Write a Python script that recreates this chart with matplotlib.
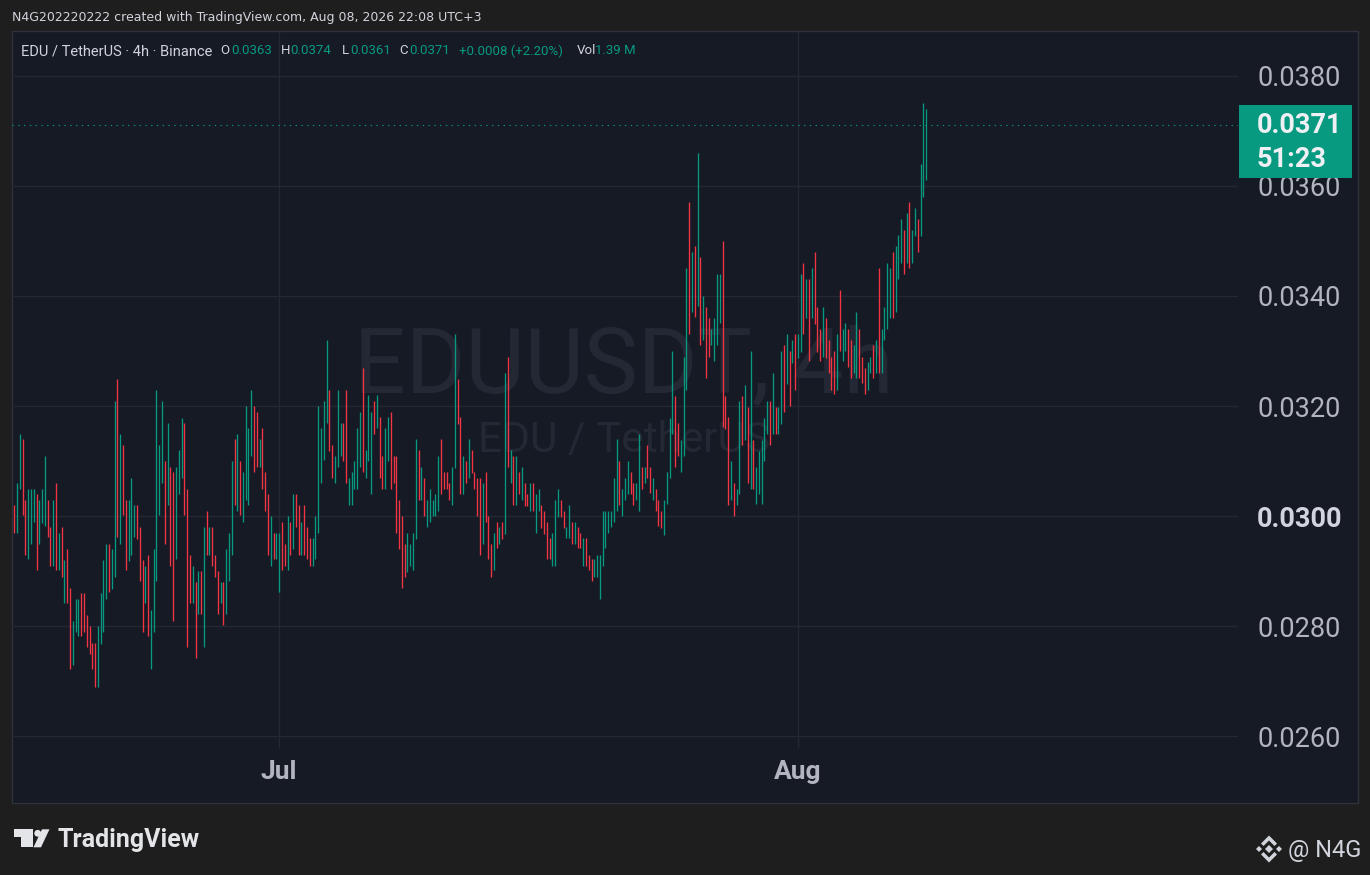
import numpy as np
import pandas as pd
import matplotlib
matplotlib.use("Agg")
import matplotlib.pyplot as plt
from matplotlib.patches import Rectangle, Polygon, Ellipse

plt.rcParams['font.family'] = ['Roboto', 'DejaVu Sans']

# ---------------- data ----------------
symbol = "EDU / TetherUS"
ticker = "EDUUSDT"
interval = "4h"
exchange = "Binance"
header_text = "N4G202220222 created with TradingView.com, Aug 08, 2026 22:08 UTC+3"
last_bar_time = "2026-08-08 19:00"       # UTC+3
ohlc_last = {"O": "0.0363", "H": "0.0374", "L": "0.0361", "C": "0.0371"}
last_close = 0.0371
change_text = "+0.0008 (+2.20%)"
volume_text = "1.39 M"
countdown = "51:23"
price_ticks = [0.026, 0.028, 0.030, 0.032, 0.034, 0.036, 0.038]

# u = up (green) candle, d = down (red) candle
direction = ("duudduuudu" "uuddududud" "duuudddddd" "uuuuduudud" "duuudddudu"
             "uuuududduu" "udddududud" "uddduduuud" "uduuuuddud" "dduduuddud"
             "udduddduuu" "uuudduuudd" "uuuuuduuud" "udduuddddd" "duuuududuu"
             "uuudddduud" "dududdddud" "ddudududud" "ududduduud" "ddduuudduu"
             "dudduddduu" "uuuuuuuduu" "udduududdu" "ddduuuuddu" "uududududd"
             "uuuudddudu" "udududuuuu" "ududuududu" "duudududdd" "udddduduud"
             "duuddduudu" "duuuuduuud" "uduuduuu")

high = [
    0.03020, 0.03060, 0.03149, 0.03140, 0.03029, 0.03049, 0.03049, 0.03049, 0.03040, 0.03029,
    0.03049, 0.03109, 0.03029, 0.02980, 0.03029, 0.03060, 0.02970, 0.02980, 0.02920, 0.02940,
    0.02869, 0.02809, 0.02849, 0.02849, 0.02860, 0.02860, 0.02820, 0.02800, 0.02769, 0.02769,
    0.02800, 0.02860, 0.02920, 0.02950, 0.02950, 0.02940, 0.03209, 0.03249, 0.03149, 0.03129,
    0.03029, 0.03029, 0.03069, 0.03020, 0.03020, 0.02980, 0.02920, 0.02909, 0.02930, 0.02829,
    0.02940, 0.03229, 0.03129, 0.03209, 0.03100, 0.03169, 0.03089, 0.03080, 0.03089, 0.03120,
    0.03179, 0.03169, 0.03049, 0.02929, 0.02909, 0.02880, 0.02900, 0.02900, 0.02980, 0.03009,
    0.02980, 0.02980, 0.02929, 0.02900, 0.02880, 0.02880, 0.02940, 0.02969, 0.03100, 0.03140,
    0.03149, 0.03100, 0.03080, 0.03200, 0.03160, 0.03229, 0.03200, 0.03189, 0.03140, 0.03160,
    0.03080, 0.03040, 0.03000, 0.02969, 0.02969, 0.02969, 0.02989, 0.02949, 0.03000, 0.02989,
    0.03040, 0.03040, 0.03020, 0.02989, 0.03020, 0.02980, 0.02960, 0.02960, 0.03000, 0.03200,
    0.03160, 0.03209, 0.03320, 0.03229, 0.03129, 0.03109, 0.03229, 0.03169, 0.03169, 0.03229,
    0.03069, 0.03080, 0.03100, 0.03160, 0.03189, 0.03269, 0.03120, 0.03220, 0.03189, 0.03209,
    0.03220, 0.03180, 0.03109, 0.03160, 0.03180, 0.03189, 0.03109, 0.03109, 0.03029, 0.03000,
    0.02949, 0.02969, 0.02949, 0.02969, 0.03140, 0.03120, 0.03089, 0.03069, 0.03029, 0.03049,
    0.03029, 0.03040, 0.03109, 0.03140, 0.03080, 0.03080, 0.03060, 0.03089, 0.03331, 0.03249,
    0.03180, 0.03109, 0.03100, 0.03140, 0.03120, 0.03080, 0.03069, 0.03069, 0.03060, 0.03080,
    0.03000, 0.02950, 0.02970, 0.02990, 0.02980, 0.02990, 0.03260, 0.03289, 0.03120, 0.03109,
    0.03109, 0.03080, 0.03090, 0.03060, 0.03040, 0.03060, 0.03060, 0.03040, 0.03049, 0.03020,
    0.03009, 0.02990, 0.02960, 0.02970, 0.03029, 0.03049, 0.03029, 0.03009, 0.02980, 0.03020,
    0.02990, 0.02990, 0.02980, 0.02970, 0.02960, 0.02960, 0.02930, 0.02921, 0.02921, 0.02930,
    0.02930, 0.03009, 0.03009, 0.03009, 0.03009, 0.03069, 0.03140, 0.03100, 0.03049, 0.03069,
    0.03100, 0.03080, 0.03060, 0.03060, 0.03149, 0.03089, 0.03089, 0.03129, 0.03089, 0.03070,
    0.03050, 0.03030, 0.03010, 0.03030, 0.03080, 0.03179, 0.03300, 0.03219, 0.03169, 0.03139,
    0.03289, 0.03451, 0.03571, 0.03480, 0.03491, 0.03660, 0.03471, 0.03400, 0.03380, 0.03360,
    0.03340, 0.03360, 0.03440, 0.03440, 0.03500, 0.03219, 0.03180, 0.03100, 0.03060, 0.03050,
    0.03209, 0.03219, 0.03239, 0.03199, 0.03300, 0.03139, 0.03089, 0.03119, 0.03139, 0.03179,
    0.03209, 0.03209, 0.03260, 0.03199, 0.03199, 0.03300, 0.03311, 0.03331, 0.03300, 0.03320,
    0.03331, 0.03331, 0.03440, 0.03460, 0.03431, 0.03431, 0.03451, 0.03480, 0.03380, 0.03340,
    0.03380, 0.03360, 0.03320, 0.03289, 0.03300, 0.03331, 0.03411, 0.03340, 0.03351, 0.03340,
    0.03320, 0.03311, 0.03371, 0.03340, 0.03289, 0.03269, 0.03280, 0.03289, 0.03311, 0.03320,
    0.03451, 0.03340, 0.03380, 0.03460, 0.03451, 0.03480, 0.03491, 0.03511, 0.03540, 0.03520,
    0.03551, 0.03571, 0.03520, 0.03560, 0.03540, 0.03640, 0.03751, 0.03740,
]

low = [
    0.02970, 0.02970, 0.03050, 0.03001, 0.02930, 0.02921, 0.02950, 0.02990, 0.02901, 0.02950,
    0.02988, 0.02981, 0.02961, 0.02910, 0.02910, 0.02901, 0.02901, 0.02890, 0.02841, 0.02841,
    0.02721, 0.02730, 0.02790, 0.02781, 0.02781, 0.02790, 0.02761, 0.02750, 0.02721, 0.02690,
    0.02690, 0.02768, 0.02790, 0.02850, 0.02861, 0.02868, 0.02890, 0.02961, 0.02950, 0.03001,
    0.02901, 0.02919, 0.02930, 0.02961, 0.02959, 0.02881, 0.02790, 0.02841, 0.02781, 0.02721,
    0.02790, 0.02881, 0.03001, 0.03060, 0.02950, 0.03020,
    0.02910, 0.02810, 0.02921, 0.03040, 0.03070, 0.03001, 0.02761, 0.02841, 0.02841, 0.02741,
    0.02821, 0.02821, 0.02761, 0.02930, 0.02930, 0.02910, 0.02890, 0.02821, 0.02841, 0.02801,
    0.02821, 0.02881, 0.02930, 0.03020, 0.03009, 0.03001, 0.02990, 0.03030, 0.03020, 0.03110,
    0.03080, 0.03090, 0.03090, 0.03050, 0.03009, 0.02930, 0.02910, 0.02921, 0.02921, 0.02861,
    0.02901, 0.02910, 0.02901, 0.02930, 0.02940, 0.02980, 0.02930, 0.02930, 0.02930, 0.02921,
    0.02910, 0.02910, 0.02921, 0.02970, 0.03060, 0.03101,
    0.03169, 0.03119, 0.03069, 0.03060, 0.03089, 0.03109, 0.03100, 0.03060, 0.03020, 0.03020,
    0.03049, 0.03049, 0.03089, 0.03080, 0.03069, 0.03100, 0.03040, 0.03149, 0.03160, 0.03069,
    0.03049, 0.03049, 0.03100, 0.03049, 0.03060, 0.02969, 0.02940, 0.02870, 0.02890, 0.02899,
    0.02909, 0.02901, 0.02958, 0.03029, 0.03029, 0.03000, 0.02980, 0.02989, 0.03000, 0.03000,
    0.03009, 0.03040, 0.03049, 0.03049, 0.03029, 0.03020, 0.03088, 0.03167, 0.03040, 0.03040,
    0.03060, 0.03069, 0.03078, 0.03049, 0.03000,
    0.02930, 0.02950, 0.02990, 0.02921, 0.02890, 0.02901, 0.02941, 0.02950, 0.02959, 0.02968,
    0.03090, 0.03060, 0.03020, 0.03020, 0.03040, 0.03029, 0.03018, 0.03018, 0.03009, 0.03009,
    0.02970, 0.03009, 0.02979, 0.02968, 0.02921, 0.02921, 0.02910, 0.02910, 0.02999, 0.02999,
    0.02979, 0.02960, 0.02960, 0.02950, 0.02950, 0.02941, 0.02941, 0.02910, 0.02910, 0.02901,
    0.02881, 0.02890, 0.02890, 0.02850, 0.02910, 0.02941, 0.02970, 0.02980, 0.02990, 0.03009,
    0.03020, 0.03000, 0.03029, 0.03040, 0.03040, 0.03020,
    0.03030, 0.03010, 0.03050, 0.03060, 0.03070, 0.03041, 0.03030, 0.03010, 0.02981, 0.02979,
    0.02965, 0.03021, 0.03070, 0.03149, 0.03089, 0.03110, 0.03080, 0.03110, 0.03230, 0.03331,
    0.03371, 0.03361, 0.03381, 0.03311, 0.03320, 0.03250, 0.03289, 0.03311, 0.03281, 0.03311,
    0.03351, 0.03161, 0.03159, 0.03020, 0.03030, 0.03000, 0.03020, 0.03040, 0.03129, 0.03139,
    0.03060, 0.03050, 0.03050, 0.03021, 0.03040, 0.03021, 0.03100, 0.03149, 0.03129, 0.03149,
    0.03149, 0.03149, 0.03168, 0.03190, 0.03240, 0.03200,
    0.03278, 0.03230, 0.03287, 0.03298, 0.03331, 0.03360, 0.03281, 0.03360, 0.03349, 0.03298,
    0.03281, 0.03289, 0.03287, 0.03260, 0.03230, 0.03221, 0.03230, 0.03300, 0.03281, 0.03300,
    0.03270, 0.03250, 0.03260, 0.03250, 0.03250, 0.03241, 0.03221, 0.03230, 0.03260, 0.03250,
    0.03260, 0.03260, 0.03260, 0.03320, 0.03340, 0.03360, 0.03360, 0.03371, 0.03431, 0.03460,
    0.03440, 0.03460, 0.03451, 0.03460, 0.03509, 0.03480, 0.03509, 0.03580, 0.03610,
]

# ---------------- style ----------------
W, H = 1370, 875
OUTER = "#1e1e1e"
PANE = "#161a25"
GRID = "#242833"
BORDER = "#2e323d"
UP = "#089981"
DOWN = "#f23645"
TXT = "#b2b5be"
LIGHT = "#d1d4dc"
WM = "#242834"


def fx(px):
    return px / W


def fy(py):
    return 1 - py / H


n = min(len(high), len(low), len(direction))
times = pd.date_range(end=last_bar_time, periods=n, freq="4h")
xs = np.arange(n)
colors = [UP if d == "u" else DOWN for d in direction[:n]]

fig = plt.figure(figsize=(W / 100, H / 100), dpi=100, facecolor=OUTER)

# chart panel background (incl. price scale & time scale)
fig.patches.append(Rectangle((fx(12), fy(803)), fx(1358) - fx(12), fy(31) - fy(803),
                             transform=fig.transFigure, facecolor=PANE,
                             edgecolor=BORDER, linewidth=1.0, zorder=-5))

ax = fig.add_axes([fx(12), fy(748), fx(1238) - fx(12), fy(31) - fy(748)])
ax.set_zorder(1)
ax.set_facecolor("none")
for s in ax.spines.values():
    s.set_visible(False)

ax.vlines(xs, low[:n], high[:n], colors=colors, linewidth=0.95, zorder=3)

ax.set_xlim(-0.8, 438.8)
ax.set_ylim(0.025782, 0.038818)

# month ticks from the bar timestamps
month_idx = [i for i in range(1, n) if times[i].month != times[i - 1].month]
ax.set_xticks(month_idx, labels=[times[i].strftime("%b") for i in month_idx])
ax.set_yticks(price_ticks, labels=[f"{p:.4f}" for p in price_ticks])
ax.yaxis.tick_right()
ax.tick_params(axis="y", length=0, pad=13.7, labelsize=19.5, labelcolor=TXT)
ax.tick_params(axis="x", length=0, pad=8.5, labelsize=19, labelcolor=TXT)
for lab in ax.get_xticklabels():
    lab.set_fontweight("bold")
for lab in ax.get_yticklabels():
    if lab.get_text() == "0.0300":
        lab.set_fontweight("bold")
        lab.set_color(LIGHT)

ax.set_axisbelow(True)
ax.grid(True, color=GRID, linewidth=1.0)

# watermark
ax.text(0.499, 0.4965, f"{ticker}, {interval}", transform=ax.transAxes, ha="center",
        va="baseline", fontsize=65.5, color=WM, zorder=1)
ax.text(0.499, 0.413, symbol, transform=ax.transAxes, ha="center", va="baseline",
        fontsize=30.5, color=WM, zorder=1)

# last price line
ax.axhline(last_close, color=UP, linewidth=0.8, linestyle=(0, (1.2, 4.0)), zorder=2)

# last price tag
fig.canvas.draw()
y_close_px = ax.transData.transform((0, last_close))[1]     # display px from bottom
y_close_top = H - y_close_px                                  # px from top
tag = Rectangle((fx(1239), fy(y_close_top + 52.5)), fx(1352) - fx(1239), 73.0 / H,
                transform=fig.transFigure, facecolor=UP, edgecolor="none", zorder=5)
fig.patches.append(tag)
fig.text(fx(1257), fy(y_close_top), f"{last_close:.4f}", fontsize=19.5, weight="bold",
         color="#eef0f4", va="center", ha="left", zorder=6)
fig.text(fx(1257), fy(y_close_top + 34), countdown, fontsize=19.5, weight="bold",
         color="#eef0f4", va="center", ha="left", zorder=6)

# header
fig.text(fx(12), fy(18), header_text, fontsize=9.0, color=LIGHT, va="center", ha="left",
         family="DejaVu Sans")

# legend row
ly = fy(51)
lfs = 9.5
fig.text(fx(21), ly, f"{symbol} · {interval} · {exchange}", fontsize=10.5, color=LIGHT,
         va="center")
pos = {"O": (220.5, 231), "H": (281, 290), "L": (342, 350), "C": (399, 409)}
for k, (xl, xv) in pos.items():
    fig.text(fx(xl), ly, k, fontsize=lfs, color=LIGHT, va="center")
    fig.text(fx(xv), ly, ohlc_last[k], fontsize=lfs, color=UP, va="center")
fig.text(fx(459), ly, change_text, fontsize=lfs, color=UP, va="center")
fig.text(fx(577), ly, "Vol", fontsize=lfs, color=LIGHT, va="center")
fig.text(fx(595), ly, volume_text, fontsize=lfs, color=UP, va="center")

# TradingView logo (bottom left)
LOGO = "#e3e5e8"


def P(pts):
    return [(fx(a), fy(b)) for a, b in pts]


fig.patches.append(Polygon(P([(14, 829.3), (32.7, 829.3), (32.7, 847.3), (20.7, 847.3),
                              (20.7, 837.3), (14, 837.3)]), closed=True,
                           transform=fig.transFigure, facecolor=LOGO, edgecolor="none", zorder=4))
fig.patches.append(Ellipse((fx(37.7), fy(833.3)), 6.8 / W, 6.8 / H, transform=fig.transFigure,
                           facecolor=LOGO, edgecolor="none", zorder=4))
fig.patches.append(Polygon(P([(42, 829.3), (49.5, 829.3), (41, 847.3), (33.5, 847.3)]),
                           closed=True, transform=fig.transFigure, facecolor=LOGO,
                           edgecolor="none", zorder=4))
fig.text(fx(58), fy(847.5), "TradingView", fontsize=18, weight="bold", color=LOGO,
         va="baseline", ha="left")

# Binance-like mark + author (bottom right)
cx, cy = 1269, 849
shapes = [
    [(0, -4), (4, 0), (0, 4), (-4, 0)],
    [(-10, -3), (-7, 0), (-10, 3), (-13, 0)],
    [(10, -3), (13, 0), (10, 3), (7, 0)],
    [(0, -13.5), (8, -5.5), (5.5, -3), (0, -8.5), (-5.5, -3), (-8, -5.5)],
    [(0, 13.5), (8, 5.5), (5.5, 3), (0, 8.5), (-5.5, 3), (-8, 5.5)],
]
for sh in shapes:
    fig.patches.append(Polygon(P([(cx + a, cy + b) for a, b in sh]), closed=True,
                               transform=fig.transFigure, facecolor=LIGHT,
                               edgecolor="none", zorder=4))
fig.text(fx(1288), fy(857), "@ N4G", fontsize=17, color=LIGHT, va="baseline", ha="left")

fig.savefig("out.png", dpi=100, facecolor=OUTER)
